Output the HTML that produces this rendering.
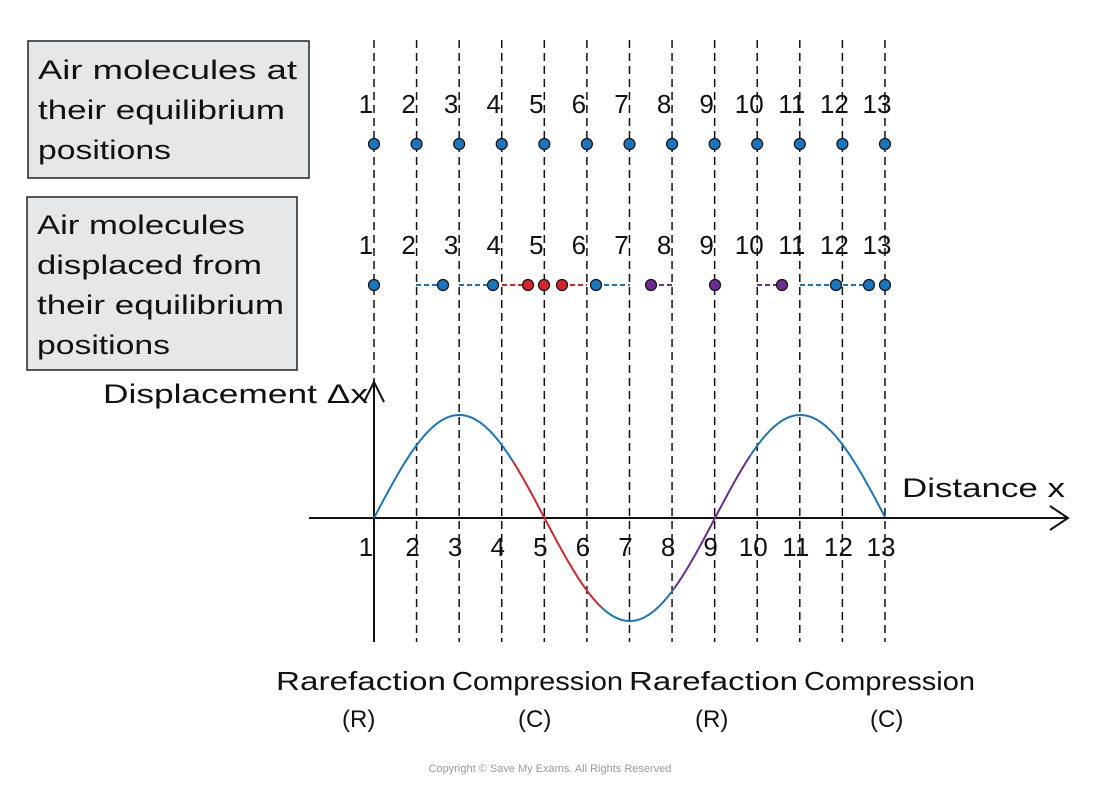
<!DOCTYPE html>
<html><head><meta charset="utf-8"><style>
html,body{margin:0;padding:0;background:#fff;}
svg text{font-family:"Liberation Sans",sans-serif;fill:#111;}
</style></head><body>
<svg id="s" width="1100" height="784" xmlns="http://www.w3.org/2000/svg">
<rect x="28" y="41" width="281" height="137" fill="#e6e7e8" stroke="#222" stroke-width="1.5"/>
<text x="38" y="79" font-size="27" textLength="259" lengthAdjust="spacingAndGlyphs">Air molecules at</text>
<text x="38" y="119" font-size="27" textLength="247" lengthAdjust="spacingAndGlyphs">their equilibrium</text>
<text x="38" y="159" font-size="27" textLength="133" lengthAdjust="spacingAndGlyphs">positions</text>
<rect x="27" y="197" width="270" height="173" fill="#e6e7e8" stroke="#222" stroke-width="1.5"/>
<text x="37" y="234" font-size="27" textLength="208" lengthAdjust="spacingAndGlyphs">Air molecules</text>
<text x="37" y="274" font-size="27" textLength="225" lengthAdjust="spacingAndGlyphs">displaced from</text>
<text x="37" y="314" font-size="27" textLength="247" lengthAdjust="spacingAndGlyphs">their equilibrium</text>
<text x="37" y="354" font-size="27" textLength="133" lengthAdjust="spacingAndGlyphs">positions</text>
<g id="grid"></g>
<line x1="374" y1="380" x2="374" y2="642" stroke="#111" stroke-width="2"/>
<polyline points="364,402 374,382 384,402" fill="none" stroke="#111" stroke-width="2"/>
<line x1="309" y1="518" x2="1068" y2="518" stroke="#111" stroke-width="2"/>
<polyline points="1050,506 1068,518 1050,530" fill="none" stroke="#111" stroke-width="2"/>
<text x="103" y="403" font-size="27" textLength="265" lengthAdjust="spacingAndGlyphs">Displacement  Δx</text>
<text x="902" y="497" font-size="27" textLength="163" lengthAdjust="spacingAndGlyphs">Distance  x</text>
<g id="wave"></g>
<text x="276" y="690" font-size="26" textLength="170" lengthAdjust="spacingAndGlyphs">Rarefaction</text>
<text x="452" y="690" font-size="26" textLength="171" lengthAdjust="spacingAndGlyphs">Compression</text>
<text x="629" y="690" font-size="26" textLength="169" lengthAdjust="spacingAndGlyphs">Rarefaction</text>
<text x="804" y="690" font-size="26" textLength="171" lengthAdjust="spacingAndGlyphs">Compression</text>
<text x="342" y="727" font-size="24">(R)</text>
<text x="518" y="727" font-size="24">(C)</text>
<text x="695" y="727" font-size="24">(R)</text>
<text x="870" y="727" font-size="24">(C)</text>
<text x="550" y="772" font-size="11" text-anchor="middle" style="fill:#999">Copyright © Save My Exams. All Rights Reserved</text>
</svg>
<script>
var NS="http://www.w3.org/2000/svg",g=document.getElementById('grid'),w=document.getElementById('wave');
function el(p,t,a){var e=document.createElementNS(NS,t);for(var k in a)e.setAttribute(k,a[k]);p.appendChild(e);return e;}
var xs=[];for(var i=0;i<13;i++)xs.push(374+i*42.58);
xs.forEach(function(x,i){
 if(i>0)el(g,'line',{x1:x,y1:40,x2:x,y2:642,stroke:'#111','stroke-width':1.5,'stroke-dasharray':'8,5'});
 else{el(g,'line',{x1:x,y1:40,x2:x,y2:380,stroke:'#111','stroke-width':1.5,'stroke-dasharray':'8,5'});}
 var t=el(g,'text',{x:x-8,y:113,'font-size':26,'text-anchor':'middle'});t.textContent=i+1;
 var t2=el(g,'text',{x:x-8,y:254,'font-size':26,'text-anchor':'middle'});t2.textContent=i+1;
 var t3=el(g,'text',{x:x-8+(i==0?0:4),y:556,'font-size':26,'text-anchor':'middle'});t3.textContent=i+1;
 el(g,'circle',{cx:x,cy:144,r:5.5,fill:'#1b75bc',stroke:'#111','stroke-width':1.2});
});
var B='#1b75bc',R='#d7232a',P='#6a2c91';
[[416,443,B],[459,493,B],[502,528,R],[562,587,R],[596,630,B],[651,672,P],[757,782,P],[800,836,B],[843,869,B]].forEach(function(s){
 el(g,'line',{x1:s[0],y1:285,x2:s[1],y2:285,stroke:s[2],'stroke-width':2,'stroke-dasharray':'5,3'});});
[[374,B],[443,B],[493,B],[528,R],[544,R],[562,R],[596,B],[651,P],[715,P],[782,P],[836,B],[869,B],[885,B]].forEach(function(d){
 el(g,'circle',{cx:d[0],cy:285,r:5.5,fill:d[1],stroke:'#111','stroke-width':1.2});});
function seg(a,b,c){var p='';for(var x=a;x<=b+0.01;x+=1){var y=518-103*Math.sin((x-374)/341*2*Math.PI);p+=(p?' L':'M')+x.toFixed(1)+','+y.toFixed(1);}
 el(w,'path',{d:p,fill:'none',stroke:c,'stroke-width':2});}
seg(374,513,B);seg(513,601,R);seg(601,674,B);seg(674,750,P);seg(750,885,B);
</script>
</body></html>
